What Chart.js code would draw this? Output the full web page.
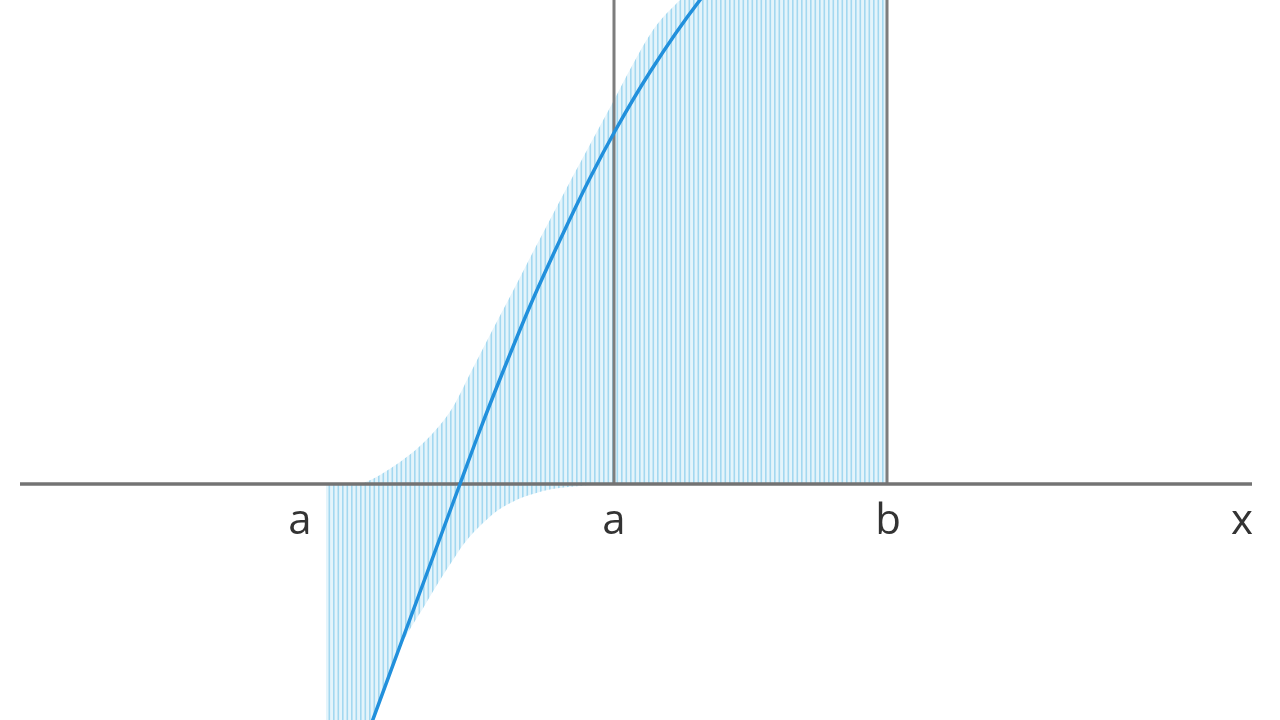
<!DOCTYPE html>
<html>
<head>
<meta charset="utf-8">
<script src="https://cdn.jsdelivr.net/npm/chart.js@4"></script>
<style>
  html, body { margin: 0; padding: 0; background: #ffffff; }
  canvas { display: block; }
</style>
</head>
<body>
<canvas id="chart" width="1280" height="720"></canvas>
<script>
// Curve f(x)
const curveX = [-1.03, -0.88, -0.60, -0.30, 0.00, 0.20, 0.40, 0.70, 1.00, 1.30, 1.55, 1.90, 2.40, 2.70];
const curveY = [-2.78, -2.38, -1.62, -0.81, 0.00, 0.54, 1.05, 1.78, 2.44, 3.06, 3.53, 4.12, 4.84, 5.19];

// Hatched area above the x axis (top edge)
const upperX = [-0.98, -0.80, -0.60, -0.40, -0.20, -0.07, 0.13, 0.33, 0.53, 0.73, 0.93, 1.13, 1.33, 1.53, 1.73, 1.93, 2.10, 2.30, 4.27];
const upperY = [0.00, 0.09, 0.22, 0.38, 0.59, 0.77, 1.16, 1.55, 1.93, 2.32, 2.70, 3.08, 3.45, 3.82, 4.20, 4.54, 4.74, 4.89, 4.89];

// Hatched area below the x axis (bottom edge)
const lowerX = [-1.34, -1.03, -0.88, -0.60, -0.35, -0.20, -0.07, 0.03, 0.23, 0.43, 0.83, 1.20, 1.50];
const lowerY = [-2.78, -2.78, -2.38, -1.64, -1.21, -0.96, -0.76, -0.61, -0.39, -0.23, -0.07, -0.02, 0.00];

// Vertical markers and axis
const markerX = [1.54, 4.27];
const axisX = [-4.40, 7.92];
const yTop = 5.2;

// Labels under the axis
const tickLabels = ['a', 'a', 'b', 'x'];
const tickValues = [-1.60, 1.54, 4.28, 7.82];

const toPoints = (xs, ys) => xs.map((x, i) => ({ x, y: ys[i] }));

// Vertical hatch pattern
function makeHatch() {
    const tile = document.createElement('canvas');
    tile.width = 9;
    tile.height = 10;
    const t = tile.getContext('2d');
    t.fillStyle = '#e4f4fb';
    t.fillRect(0, 0, 9, 10);
    t.fillStyle = '#a3d8f0';
    t.fillRect(0, 0, 1.6, 10);
    t.fillRect(4.5, 0, 1.6, 10);
    return t.createPattern(tile, 'repeat');
}

const tickLabelPlugin = {
    id: 'tickLabelPlugin',
    afterDatasetsDraw(chart) {
        const { ctx, scales } = chart;
        ctx.save();
        ctx.font = '42px "Open Sans", "Noto Sans", sans-serif';
        ctx.fillStyle = '#333333';
        ctx.textAlign = 'center';
        ctx.textBaseline = 'alphabetic';
        const base = scales.y.getPixelForValue(0) + 50;
        tickLabels.forEach((label, i) => {
            ctx.fillText(label, scales.x.getPixelForValue(tickValues[i]), base);
        });
        ctx.restore();
    }
};

const hatch = makeHatch();
const lineBase = { pointRadius: 0, fill: false, tension: 0 };
const smooth = { cubicInterpolationMode: 'monotone' };

new Chart(document.getElementById('chart').getContext('2d'), {
    type: 'line',
    data: {
        datasets: [
            { ...lineBase, ...smooth, label: 'f', data: toPoints(curveX, curveY), borderColor: '#2190dc', borderWidth: 3.5, order: 0 },
            { ...lineBase, label: 'axis', data: toPoints(axisX, [0, 0]), borderColor: '#737373', borderWidth: 3.5, order: 1 },
            { ...lineBase, label: 'a', data: toPoints([markerX[0], markerX[0]], [0, yTop]), borderColor: '#7d7d7d', borderWidth: 3, order: 2 },
            { ...lineBase, label: 'b', data: toPoints([markerX[1], markerX[1]], [0, yTop]), borderColor: '#7d7d7d', borderWidth: 3, order: 2 },
            { ...smooth, label: 'upper', data: toPoints(upperX, upperY), borderWidth: 0, pointRadius: 0, backgroundColor: hatch, fill: 'origin', order: 3 },
            { ...smooth, label: 'lower', data: toPoints(lowerX, lowerY), borderWidth: 0, pointRadius: 0, backgroundColor: hatch, fill: 'origin', order: 3 }
        ]
    },
    options: {
        responsive: false,
        animation: false,
        layout: { padding: 0 },
        plugins: { legend: { display: false }, tooltip: { enabled: false } },
        scales: {
            x: { type: 'linear', min: -4.6, max: 8.2, display: false },
            y: { type: 'linear', min: -2.36, max: 4.84, display: false }
        }
    },
    plugins: [tickLabelPlugin]
});
</script>
</body>
</html>
